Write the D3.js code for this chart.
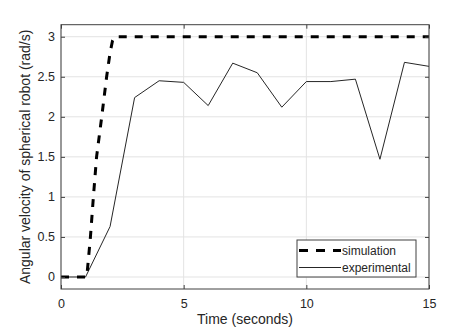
<!DOCTYPE html>
<html><head><meta charset="utf-8">
<script src="https://cdn.jsdelivr.net/npm/d3@7"></script>
<style>body{margin:0;background:#fff;}svg{display:block;font-family:Arial,"Liberation Sans",Helvetica,sans-serif;}</style>
</head><body><svg id="c" width="474" height="332"></svg>
<script>
const simTime = [0, 1.05, 1.2, 1.32, 1.45, 1.66, 1.86, 2.0, 2.1, 2.2, 15];
const simValue = [0, 0, 0.5, 1.0, 1.5, 2.0, 2.5, 2.8, 2.95, 3.0, 3.0];
const expTime = [0, 1, 2, 3, 4, 5, 6, 7, 8, 9, 10, 11, 12, 13, 14, 15];
const expValue = [0, 0, 0.63, 2.24, 2.45, 2.43, 2.14, 2.67, 2.55, 2.12, 2.44, 2.44, 2.47, 1.47, 2.68, 2.63];
const xTicks = [0, 5, 10, 15];
const yTicks = [0, 0.5, 1, 1.5, 2, 2.5, 3];
const legendLabels = ["simulation", "experimental"];
const xLabel = "Time (seconds)";
const yLabel = "Angular velocity of spherical robot (rad/s)";

const svg = d3.select("#c");
const L = 61, R = 429, T = 24.7, B = 289;
const x = d3.scaleLinear().domain([0, 15]).range([L, R]);
const y = d3.scaleLinear().domain([-0.15, 3.15]).range([B, T]);
const axisColor = "#404040";

// grid
const g = svg.append("g");
g.selectAll(".gx").data(xTicks).join("line")
  .attr("x1", d => x(d)).attr("x2", d => x(d)).attr("y1", T).attr("y2", B)
  .attr("stroke", "#e3e3e3").attr("stroke-width", 1);
g.selectAll(".gy").data(yTicks).join("line")
  .attr("x1", L).attr("x2", R).attr("y1", d => y(d)).attr("y2", d => y(d))
  .attr("stroke", "#e3e3e3").attr("stroke-width", 1);

// lines
const lineGen = d3.line().x(d => x(d[0])).y(d => y(d[1]));
svg.append("path").datum(expTime.map((t, i) => [t, expValue[i]]))
  .attr("d", lineGen).attr("fill", "none").attr("stroke", "#262626").attr("stroke-width", 1);
svg.append("path").datum(simTime.map((t, i) => [t, simValue[i]]))
  .attr("d", lineGen).attr("fill", "none").attr("stroke", "#000").attr("stroke-width", 3)
  .attr("stroke-dasharray", "8,8");

// axes
const ax = d3.axisBottom(x).tickValues(xTicks).tickSize(-4).tickPadding(10.5).tickFormat(d3.format("d"));
const ay = d3.axisLeft(y).tickValues(yTicks).tickSize(-4).tickPadding(6).tickFormat(d => d3.format("")(d));
const axT = d3.axisTop(x).tickValues(xTicks).tickSize(-4).tickFormat("");
const ayR = d3.axisRight(y).tickValues(yTicks).tickSize(-4).tickFormat("");
function style(sel){
  sel.select(".domain").remove();
  sel.selectAll("line").attr("stroke", axisColor);
  sel.selectAll("text").attr("fill", "#262626").style("font-size", "12.5px").style("font-family", "Arial, 'Liberation Sans', sans-serif");
}
svg.append("g").attr("transform", `translate(0,${B})`).call(ax).call(style);
svg.append("g").attr("transform", `translate(${L},0)`).call(ay).call(style);
svg.append("g").attr("transform", `translate(0,${T})`).call(axT).call(style);
svg.append("g").attr("transform", `translate(${R},0)`).call(ayR).call(style);
svg.append("rect").attr("x", L).attr("y", T).attr("width", R - L).attr("height", B - T)
  .attr("fill", "none").attr("stroke", axisColor).attr("stroke-width", 1);

// labels
svg.append("text").attr("x", (L + R) / 2).attr("y", 323.5).attr("text-anchor", "middle")
  .attr("fill", "#262626").style("font-size", "14px").text(xLabel);
svg.append("text").attr("transform", `translate(30,${(T + B) / 2}) rotate(-90)`)
  .attr("text-anchor", "middle").attr("fill", "#262626").style("font-size", "14px").text(yLabel);

// legend
const lg = svg.append("g");
lg.append("rect").attr("x", 297).attr("y", 240).attr("width", 119).attr("height", 37)
  .attr("fill", "#fff").attr("stroke", axisColor).attr("stroke-width", 1);
const styles = [{w: 3, dash: "8,8", c: "#000"}, {w: 1, dash: null, c: "#262626"}];
legendLabels.forEach((lab, i) => {
  const yy = 250.5 + i * 17;
  lg.append("line").attr("x1", 299).attr("x2", 341).attr("y1", yy).attr("y2", yy)
    .attr("stroke", styles[i].c).attr("stroke-width", styles[i].w)
    .attr("stroke-dasharray", styles[i].dash ? "9,8" : null);
  lg.append("text").attr("x", 342).attr("y", yy + 4.5).attr("fill", "#262626")
    .style("font-size", "12px").text(lab);
});
</script></body></html>
